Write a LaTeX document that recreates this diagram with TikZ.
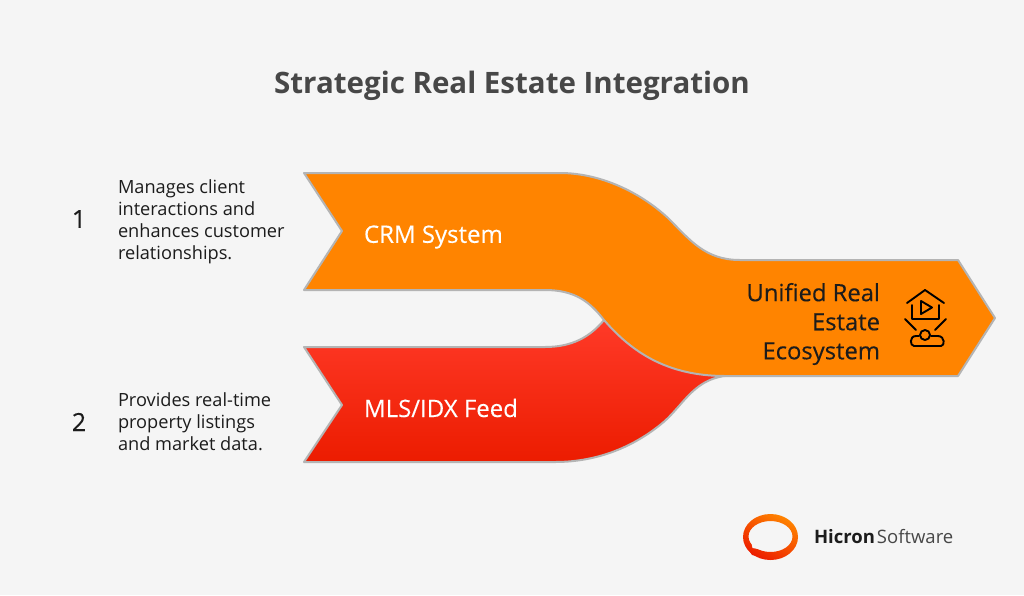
\documentclass[tikz,border=0pt]{standalone}
\usepackage{fontspec}
\setmainfont{Open Sans}
\newfontfamily\medfont[FakeBold=0.25]{Open Sans}
\usetikzlibrary{arrows,positioning}
\definecolor{pagebg}{HTML}{F5F5F5}
\definecolor{flow}{HTML}{FF8400}
\definecolor{redtop}{HTML}{FF3A28}
\definecolor{redbot}{HTML}{EC1C00}
\definecolor{rim}{HTML}{B4B4B4}
\definecolor{inktitle}{HTML}{474747}
\definecolor{ink}{HTML}{1C1C1C}
\newcommand{\fsz}[1]{\fontsize{#1}{#1}\selectfont}

\begin{document}
\begin{tikzpicture}[x=1pt,y=-1pt,semithick]
  \tikzstyle{every node}=[inner sep=0pt,outer sep=0pt]
  \tikzstyle{desc}=[align=left,anchor=west,text=ink,font=\fsz{18.2}\linespread{1.2}\selectfont]
  \tikzstyle{num}=[text=ink,font=\medfont\fsz{25}]
  \tikzstyle{band}=[text=white,anchor=west,font=\medfont\fsz{24}]
  \tikzstyle{iconline}=[draw=black,line width=1.9pt,line cap=round,line join=round,fill=none]

  \useasboundingbox (0,0) rectangle (1024,595);
  \fill[pagebg] (0,0) rectangle (1024,595);

  % lower band first, the upper one lies over it
  \draw[draw=rim,line width=2pt,top color=redtop,bottom color=redbot,line join=round]
    (304,347) -- (545,347) .. controls (572,347) and (590,337) .. (604,320)
    -- (725,376) .. controls (692,380) and (682,408) .. (660,425)
    .. controls (635,445) and (600,462) .. (555,462)
    -- (304,462) -- (342,405) -- cycle;
  \draw[draw=rim,line width=2pt,fill=flow,line join=round]
    (304,173) -- (560,173) .. controls (600,173) and (640,192) .. (668,218)
    .. controls (690,240) and (705,260) .. (740,260)
    -- (958,260) -- (995,318) -- (958,376) -- (725,376)
    .. controls (665,376) and (630,350) .. (604,320)
    .. controls (590,302) and (575,290) .. (545,290)
    -- (304,290) -- (342,231) -- cycle;

  \node (title) at (512,86) [text=inktitle,font=\fsz{29.5}\bfseries] {Strategic Real Estate Integration};

  \node[num]  (n1) at (79,219) {1};
  \node[desc] (d1) at (118,222) {Manages client\\interactions and\\enhances customer\\relationships.};
  \node[num]  (n2) at (79,422) {2};
  \node[desc] (d2) at (118,422) {Provides real-time\\property listings\\and market data.};

  \node[band] (crm) at (364,237) {CRM System};
  \node[band] (mls) at (364,408) {MLS/IDX Feed};
  \node (unified) at (880,324) [anchor=east,align=right,text=ink,font=\medfont\fsz{23.8}\linespread{1.22}\selectfont] {Unified Real\\Estate\\Ecosystem};

  % house with play mark
  \draw[iconline] (907,303) -- (925,290) -- (944,303);
  \draw[iconline] (912,305) -- (912,319) -- (939,319) -- (939,305);
  \draw[iconline] (921,301) -- (921,314) -- (932,307.5) -- cycle;
  \draw[iconline] (905,319) -- (916,330);
  \draw[iconline] (946,319) -- (935,330);
  \draw[iconline] (925,335) circle (5);
  \draw[iconline] (919,336) -- (916,336) .. controls (909,336) and (910,346) .. (914,346)
    -- (941,346) .. controls (945,346) and (945,336) .. (938,336) -- (931,336);

  % logo ring
  \fill[redbot] (746,546) -- (752,555) -- (762,557) -- cycle;
  \shade[left color=flow,right color=redbot,shading angle=-30,even odd rule]
    (770.5,537) ellipse (27.5 and 23)
    (770.5,536.5) ellipse (22 and 15.5);
  \fill[pagebg] (751,540) -- (752.5,548) -- (761,549.5) -- cycle;

  \node (hicron) at (814,537) [anchor=west,text=ink,font=\fsz{18.5}\bfseries] {Hicron};
  \node (software) [right=2pt of hicron,text=inktitle,font=\fsz{18.5}] {Software};
\end{tikzpicture}
\end{document}
